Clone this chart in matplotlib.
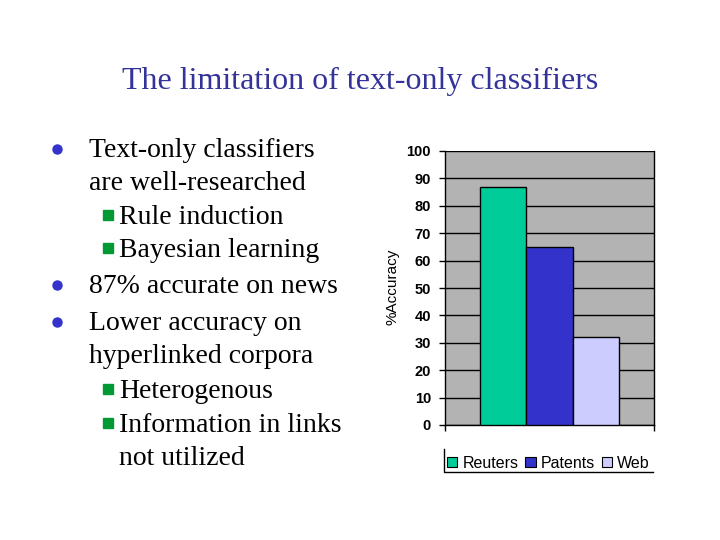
import matplotlib
matplotlib.use("Agg")
import matplotlib.pyplot as plt
from matplotlib.lines import Line2D
from matplotlib.patches import Patch

# ---- data ----
title = "The limitation of text-only classifiers"
series = ["Reuters", "Patents", "Web"]
values = [87, 65, 32]
colors = ["#00CC99", "#3333CC", "#CCCCFF"]
yticks = [0, 10, 20, 30, 40, 50, 60, 70, 80, 90, 100]
ylabel = "%Accuracy"

bullets = [
    (0, ["Text-only classifiers", "are well-researched"]),
    (1, ["Rule induction"]),
    (1, ["Bayesian learning"]),
    (0, ["87% accurate on news"]),
    (0, ["Lower accuracy on", "hyperlinked corpora"]),
    (1, ["Heterogenous"]),
    (1, ["Information in links", "not utilized"]),
]

W, H = 720, 540
fig = plt.figure(figsize=(7.2, 5.4), dpi=100)
fig.patch.set_facecolor("white")

def fx(px):
    return px / W

def fy(py):
    return 1 - py / H

serif = ["Liberation Serif", "DejaVu Serif"]
sans = ["Liberation Sans", "DejaVu Sans"]

# title
fig.text(fx(360), fy(89), title, ha="center", va="baseline",
         family=serif, fontsize=23, color="#333399")

# bullet text
baselines = [157, 190, 224, 257, 293, 330, 363, 398, 432, 465]
i = 0
for level, lines in bullets:
    for j, line in enumerate(lines):
        by = baselines[i]
        if level == 0:
            tx = 89
            if j == 0:
                fig.add_artist(Line2D([fx(57)], [fy(by - 8)], transform=fig.transFigure,
                                      marker="o", markersize=6.5, color="#3333CC",
                                      markeredgecolor="#3333CC"))
        else:
            tx = 119
            if j == 0:
                fig.add_artist(Line2D([fx(108)], [fy(by - 9)], transform=fig.transFigure,
                                      marker="s", markersize=6.5, color="#009933",
                                      markeredgecolor="#009933"))
        fig.text(fx(tx), fy(by), line, ha="left", va="baseline",
                 family=serif, fontsize=20, color="black")
        i += 1

# chart
ax = fig.add_axes([fx(445), fy(425), fx(654) - fx(445), fy(151) - fy(425)])
ax.set_facecolor("#B3B3B3")
ax.set_xlim(0, 1)
ax.set_ylim(0, 100)
ax.set_axisbelow(True)
ax.yaxis.grid(True, color="black", linewidth=1)
ax.xaxis.grid(False)

left0 = 35 / 209
bw = (139 / 209) / 3
for k, (name, v, c) in enumerate(zip(series, values, colors)):
    ax.bar(left0 + k * bw, v, width=bw, align="edge", color=c,
           edgecolor="black", linewidth=1, label=name, zorder=3)

ax.set_yticks(yticks)
ax.set_yticklabels([str(t) for t in yticks], family=sans, fontsize=10.5,
                   fontweight="bold")
ax.set_xticks([0, 1])
ax.set_xticklabels([])
ax.tick_params(axis="both", direction="out", length=4, width=1, color="black")
ax.tick_params(axis="y", pad=6)
for s in ["left", "right", "bottom"]:
    ax.spines[s].set_color("black")
    ax.spines[s].set_linewidth(1)
ax.spines["top"].set_visible(False)
fig.text(fx(393), fy(287), ylabel, rotation=90, ha="center", va="center",
         family=sans, fontsize=11)

# legend
handles = [Patch(facecolor=c, edgecolor="black", linewidth=0.8) for c in colors]
leg = fig.legend(handles, series, loc="center",
                 bbox_to_anchor=(fx(444), fy(475), fx(653) - fx(444), fy(451) - fy(475)),
                 bbox_transform=fig.transFigure, ncol=3, frameon=False,
                 prop={"family": sans, "size": 11.5}, handlelength=0.65,
                 handleheight=0.65, handletextpad=0.3, columnspacing=0.45,
                 borderpad=0, borderaxespad=0)
fig.add_artist(Line2D([fx(444), fx(444), fx(653)], [fy(449), fy(472), fy(472)],
                      transform=fig.transFigure, color="black", linewidth=1))

fig.savefig("out.png", dpi=100)
